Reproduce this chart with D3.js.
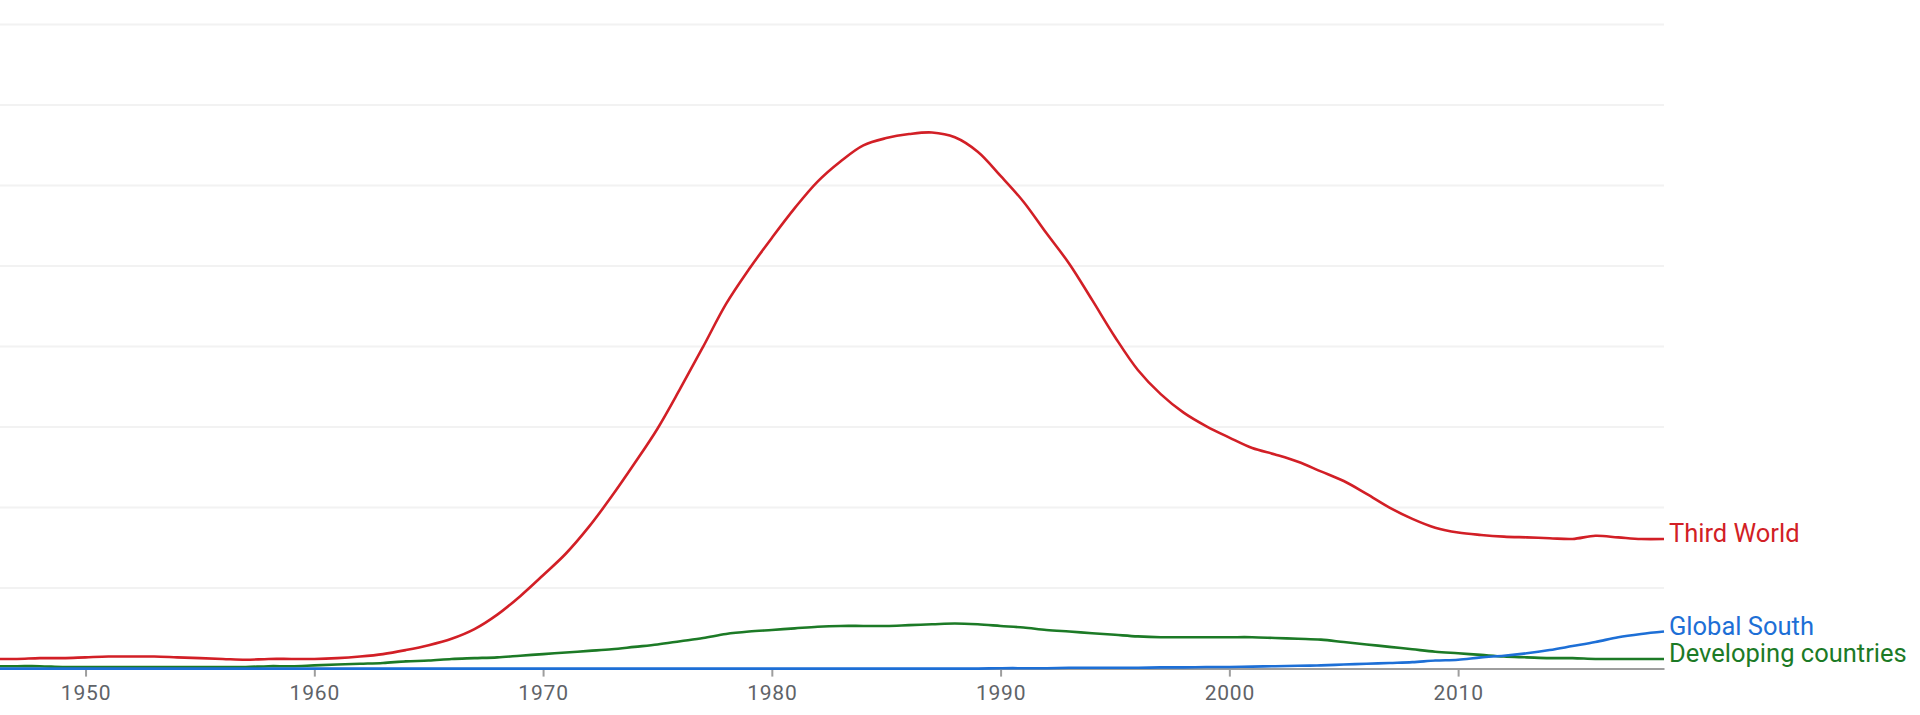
<!DOCTYPE html>
<html lang="en">
<head>
  <meta charset="UTF-8">
  <title>Ngram</title>
  <script src="https://cdn.jsdelivr.net/npm/d3@7/dist/d3.min.js"></script>
  <style>
    body { margin: 0; background: #fff; }
    svg { display: block; font-family: Roboto, sans-serif; }
  </style>
</head>
<body>
<div id="chart"></div>
<script>
  // years 1946..2019
  const years = d3.range(1946, 2020);

  // values in grid units (one gridline = 1)
  const thirdWorld = [
    0.12, 0.12, 0.13, 0.13, 0.14, 0.15, 0.15, 0.15, 0.14, 0.13,
    0.12, 0.11, 0.12, 0.12, 0.12, 0.13, 0.15, 0.18, 0.23, 0.29,
    0.37, 0.49, 0.67, 0.90, 1.16, 1.43, 1.76, 2.14, 2.55, 2.98,
    3.48, 4.00, 4.53, 4.96, 5.35, 5.72, 6.05, 6.30, 6.50, 6.59,
    6.64, 6.66, 6.60, 6.42, 6.12, 5.80, 5.41, 5.03, 4.58, 4.12,
    3.71, 3.41, 3.18, 3.01, 2.87, 2.74, 2.66, 2.57, 2.45, 2.33,
    2.17, 2.00, 1.86, 1.75, 1.69, 1.66, 1.64, 1.63, 1.62, 1.61,
    1.65, 1.63, 1.61, 1.61
  ];
  const globalSouth = [
    0, 0, 0, 0, 0, 0, 0, 0, 0, 0,
    0, 0, 0, 0, 0, 0, 0, 0, 0, 0,
    0, 0, 0, 0, 0, 0, 0, 0, 0, 0,
    0, 0, 0, 0, 0, 0, 0, 0, 0, 0,
    0, 0, 0, 0, 0.005, 0.005, 0.005, 0.01, 0.01, 0.01,
    0.01, 0.015, 0.015, 0.02, 0.02, 0.025, 0.03, 0.035, 0.04, 0.05,
    0.06, 0.07, 0.08, 0.10, 0.11, 0.14, 0.16, 0.19, 0.23, 0.28,
    0.33, 0.39, 0.43, 0.46, 0.49
  ].slice(0, 74);
  const developing = [
    0.03, 0.03, 0.03, 0.02, 0.02, 0.02, 0.02, 0.02, 0.02, 0.02,
    0.02, 0.02, 0.03, 0.03, 0.04, 0.05, 0.06, 0.07, 0.09, 0.10,
    0.12, 0.13, 0.14, 0.16, 0.18, 0.20, 0.22, 0.24, 0.27, 0.30,
    0.34, 0.38, 0.43, 0.46, 0.48, 0.50, 0.52, 0.53, 0.53, 0.53,
    0.54, 0.55, 0.56, 0.55, 0.53, 0.51, 0.48, 0.46, 0.44, 0.42,
    0.40, 0.39, 0.39, 0.39, 0.39, 0.39, 0.38, 0.37, 0.36, 0.33,
    0.30, 0.27, 0.24, 0.21, 0.19, 0.17, 0.15, 0.14, 0.13, 0.13,
    0.12, 0.12, 0.12, 0.12
  ];

  const tickYears = [1950, 1960, 1970, 1980, 1990, 2000, 2010];
  const gridLevels = [1, 2, 3, 4, 5, 6, 7, 8];

  const series = [
    { name: 'Third World', values: thirdWorld, color: '#d21f26' },
    { name: 'Developing countries', values: developing, color: '#1c7a26' },
    { name: 'Global South', values: globalSouth, color: '#1d6fd6' }
  ];

  const width = 1920, height = 715;
  const plotRight = 1664;
  const baseY = 668.6, topY = 24.6;

  const x = d3.scaleLinear().domain([1946.26, 2019]).range([0, plotRight]);
  const y = d3.scaleLinear().domain([0, 8]).range([baseY, topY]);

  const svg = d3.select('#chart').append('svg')
    .attr('width', width)
    .attr('height', height);

  // gridlines
  svg.append('g')
    .selectAll('line')
    .data(gridLevels)
    .join('line')
    .attr('x1', 0)
    .attr('x2', plotRight)
    .attr('y1', d => y(d))
    .attr('y2', d => y(d))
    .attr('stroke', '#f2f2f2')
    .attr('stroke-width', 2);

  // x axis
  const axis = svg.append('g')
    .attr('transform', `translate(0,${baseY})`)
    .call(d3.axisBottom(x)
      .tickValues(tickYears)
      .tickFormat(d3.format('d'))
      .tickSizeInner(8)
      .tickSizeOuter(0)
      .tickPadding(8));
  axis.select('.domain').attr('stroke', '#9e9e9e').attr('stroke-width', 2);
  axis.selectAll('.tick line').attr('stroke', '#9e9e9e').attr('stroke-width', 2);
  axis.selectAll('.tick text')
    .attr('fill', '#5f6368')
    .style('font-size', '21px')
    .style('font-family', 'Roboto, sans-serif')
    .style('letter-spacing', '0.8px');

  const line = d3.line()
    .x((d, i) => x(years[i]))
    .y(d => y(d))
    .curve(d3.curveCatmullRom.alpha(0.5));

  svg.append('g')
    .selectAll('path')
    .data(series)
    .join('path')
    .attr('d', d => line(d.values))
    .attr('fill', 'none')
    .attr('stroke', d => d.color)
    .attr('stroke-width', 2.6);

  // end labels
  svg.append('g')
    .selectAll('text')
    .data(series)
    .join('text')
    .attr('x', plotRight + 5)
    .attr('y', d => y(d.values[d.values.length - 1]) - 6)
    .attr('dominant-baseline', 'central')
    .attr('fill', d => d.color)
    .style('font-size', '25.5px')
    .text(d => d.name);
</script>
</body>
</html>
